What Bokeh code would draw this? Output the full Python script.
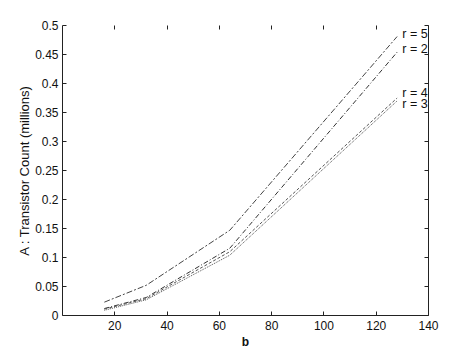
from bokeh.plotting import figure
from bokeh.models import LinearAxis, FixedTicker, Label, ColumnDataSource
from bokeh.core.properties import value
from bokeh.embed import file_html
from bokeh.resources import INLINE

# data
b_values = [16, 32, 64, 128]
r2 = [0.012, 0.031, 0.116, 0.454]
r3 = [0.009, 0.027, 0.104, 0.370]
r4 = [0.011, 0.029, 0.110, 0.375]
r5 = [0.023, 0.052, 0.147, 0.481]
series_names = ["r = 5", "r = 2", "r = 4", "r = 3"]
x_ticks = [20, 40, 60, 80, 100, 120, 140]
y_ticks = [0, 0.05, 0.1, 0.15, 0.2, 0.25, 0.3, 0.35, 0.4, 0.45, 0.5]
y_tick_labels = ["0", "0.05", "0.1", "0.15", "0.2", "0.25", "0.3", "0.35", "0.4", "0.45", "0.5"]
x_label = "b"
y_label = "A : Transistor Count (millions)"
caption = "Figure 5(a): PPM tester size of"

FONT = "Liberation Sans"

p = figure(width=474, height=363, x_range=(0, 140), y_range=(0, 0.5),
           output_backend="svg", toolbar_location=None,
           frame_width=366, frame_height=290,
           min_border_left=62, min_border_right=46, min_border_top=25,
           min_border_bottom=48)
p.background_fill_color = "white"
p.border_fill_color = "white"
p.outline_line_color = None
p.xgrid.visible = False
p.ygrid.visible = False

def style_axis(ax):
    ax.major_tick_in = 4
    ax.major_tick_out = 0
    ax.minor_tick_in = 0
    ax.minor_tick_out = 0
    ax.axis_line_color = "#222222"
    ax.major_tick_line_color = "#222222"
    ax.major_label_text_font = FONT
    ax.major_label_text_font_size = "12px"
    ax.major_label_text_color = "#111111"
    ax.axis_label_text_font = FONT
    ax.axis_label_text_font_size = "13px"
    ax.axis_label_text_font_style = "normal"
    ax.axis_label_text_color = "#111111"

xa = p.xaxis[0]
xa.ticker = FixedTicker(ticks=x_ticks)
xa.axis_label = x_label
style_axis(xa)
xa.axis_label_text_font_style = "bold"
xa.axis_label_text_font_size = "12px"
xa.major_label_standoff = 5
xa.axis_label_standoff = 2

ya = p.yaxis[0]
ya.ticker = FixedTicker(ticks=y_ticks)
ya.major_label_overrides = {t: l for t, l in zip(y_ticks, y_tick_labels)}
ya.axis_label = y_label
style_axis(ya)
ya.major_label_standoff = 4
ya.axis_label_standoff = 0

right = LinearAxis(ticker=FixedTicker(ticks=y_ticks))
style_axis(right)
right.major_label_text_color = None
right.major_label_text_alpha = 0
p.add_layout(right, "right")

top = LinearAxis(ticker=FixedTicker(ticks=x_ticks))
style_axis(top)
top.major_label_text_color = None
top.major_label_text_alpha = 0
top.axis_line_alpha = 0.0
p.add_layout(top, "above")

series = [r5, r2, r4, r3]
dashes = ["6 2 2 2", "5 2 1 2", "3 2", "1 1"]
colors = ["#444444", "#333333", "#555555", "#555555"]
for ys, d, c in zip(series, dashes, colors):
    p.line(b_values, ys, line_color=c, line_width=1, line_dash=d)

label_offsets = [0.004, 0.005, 0.009, -0.005]
src = ColumnDataSource(dict(
    x=[130] * 4,
    y=[s[-1] + o for s, o in zip(series, label_offsets)],
    t=series_names,
))
p.text(x="x", y="y", text="t", source=src, text_font=value(FONT),
       text_font_size="12.5px", text_baseline="middle", text_align="left",
       text_color="#111111")

cap = Label(x=-16, y=-0.0735, text=caption, text_font="Liberation Serif",
            text_font_size="17px", text_baseline="top", text_color="#111111")
p.add_layout(cap)

open("out.html", "w").write(file_html(p, INLINE))
